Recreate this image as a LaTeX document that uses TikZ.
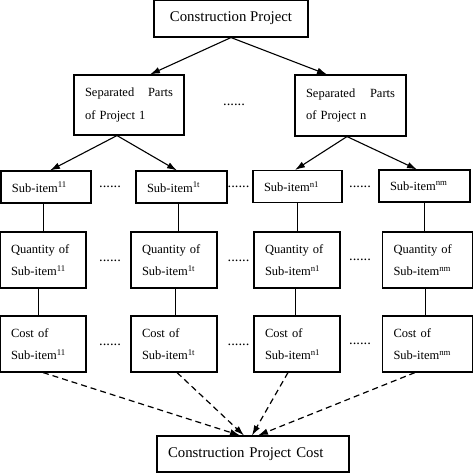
\documentclass[tikz,border=0pt]{standalone}
\usepackage{fontspec}
\setmainfont{Liberation Serif}
\usetikzlibrary{arrows.meta}
\begin{document}
\begin{tikzpicture}[x=1pt,y=-1pt,
  box/.style={draw, line width=1.1pt, rectangle, inner ysep=0pt, font=\fontsize{12.5}{22.5}\selectfont},
  bigbox/.style={box, font=\fontsize{14.8}{18}\selectfont},
  lbox/.style n args={2}{box, text width=#1-22pt, inner xsep=11pt, minimum height=#2, align=left},
  dotsnode/.style={inner sep=0pt, anchor=base, font=\fontsize{14.5}{14}\selectfont},
  solidarrow/.style={-{Latex[length=10pt,width=6.5pt]}, line width=1.1pt},
  dasharrow/.style={-{Latex[length=10pt,width=6.5pt]}, line width=1.2pt, dash pattern=on 6pt off 4pt},
  link/.style={line width=0.9pt}
]
\useasboundingbox (0,0) rectangle (474,474);

% top
\node[bigbox, minimum width=154pt, minimum height=37pt] (top) at (231,18.5) {Construction Project};

% separated parts
\node[lbox={110pt}{60pt}] (sep1) at (129,105) {Separated\hfill Parts\\of Project 1};
\node[lbox={111pt}{61pt}] (sepn) at (350.5,105.5) {Separated\hfill Parts\\of Project n};
\node[dotsnode] (d0) at (234,105) {......};

% sub-items
\node[lbox={90pt}{32pt}] (s11) at (46,187) {Sub-item\textsuperscript{11}};
\node[lbox={91pt}{32pt}] (s1t) at (181.5,187) {Sub-item\textsuperscript{1t}};
\node[lbox={89pt}{32pt}] (sn1) at (297.5,186.5) {Sub-item\textsuperscript{n1}};
\node[lbox={91pt}{32pt}] (snm) at (424.5,186) {Sub-item\textsuperscript{nm}};
\node[dotsnode] (d1) at (110,187.5) {......};
\node[dotsnode] (d2) at (238.5,187.5) {......};
\node[dotsnode] (d3) at (360,187.5) {......};

% quantities
\node[lbox={86pt}{56pt}] (q11) at (43,260) {Quantity of\\Sub-item\textsuperscript{11}};
\node[lbox={86pt}{56pt}] (q1t) at (174,260) {Quantity of\\Sub-item\textsuperscript{1t}};
\node[lbox={86pt}{56pt}] (qn1) at (297,260) {Quantity of\\Sub-item\textsuperscript{n1}};
\node[lbox={90pt}{56pt}] (qnm) at (427.5,260) {Quantity of\\Sub-item\textsuperscript{nm}};
\node[dotsnode] (d4) at (110,261.5) {......};
\node[dotsnode] (d5) at (238.5,261.5) {......};
\node[dotsnode] (d6) at (360,260.5) {......};

% costs
\node[lbox={86pt}{56pt}] (c11) at (43,344) {Cost of\\Sub-item\textsuperscript{11}};
\node[lbox={86pt}{56pt}] (c1t) at (174,344) {Cost of\\Sub-item\textsuperscript{1t}};
\node[lbox={86pt}{56pt}] (cn1) at (297,344) {Cost of\\Sub-item\textsuperscript{n1}};
\node[lbox={90pt}{56pt}] (cnm) at (427.5,344) {Cost of\\Sub-item\textsuperscript{nm}};
\node[dotsnode] (d7) at (110,345.5) {......};
\node[dotsnode] (d8) at (238.5,345.5) {......};
\node[dotsnode] (d9) at (360,344.5) {......};

% bottom
\node[box, font=\fontsize{14.8}{18}\selectfont, text width=170pt, inner xsep=11pt, minimum height=36pt, align=left] (cost) at (253,454) {Construction Project Cost};

% arrows top -> separated parts
\draw[solidarrow] (top.south) -- (sep1.north -| 150,0);
\draw[solidarrow] (top.south) -- (sepn.north -| 327,0);

% separated parts -> sub-items
\draw[solidarrow] (sep1.south -| 117,0) -- (s11.north -| 50,0);
\draw[solidarrow] (sep1.south -| 117,0) -- (s1t.north -| 177,0);
\draw[solidarrow] (sepn.south -| 347,0) -- (sn1.north -| 295,0);
\draw[solidarrow] (sepn.south -| 347,0) -- (snm.north -| 417,0);

% vertical links
\draw[link] (s11.south -| 43,0) -- (q11.north -| 43,0);
\draw[link] (s1t.south -| 178,0) -- (q1t.north -| 178,0);
\draw[link] (sn1.south -| 297,0) -- (qn1.north -| 297,0);
\draw[link] (snm.south -| 424,0) -- (qnm.north -| 424,0);
\draw[link] (q11.south -| 38,0) -- (c11.north -| 38,0);
\draw[link] (q1t.south -| 175,0) -- (c1t.north -| 175,0);
\draw[link] (qn1.south -| 295,0) -- (cn1.north -| 295,0);
\draw[link] (qnm.south -| 425,0) -- (cnm.north -| 425,0);

% dashed arrows to cost
\draw[dasharrow] (c11.south -| 43,0) -- (cost.north -| 240,0);
\draw[dasharrow] (c1t.south -| 177,0) -- (cost.north -| 244,0);
\draw[dasharrow] (cn1.south -| 288,0) -- (cost.north -| 252,0);
\draw[dasharrow] (cnm.south -| 415,0) -- (cost.north -| 258,0);
\end{tikzpicture}
\end{document}
